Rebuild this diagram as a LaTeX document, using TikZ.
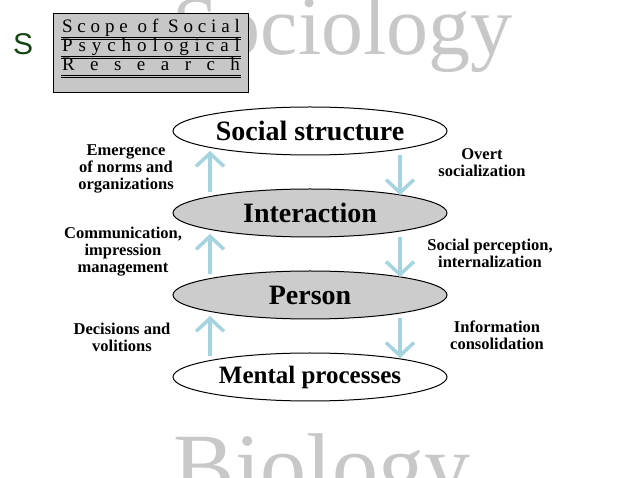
\documentclass[tikz,border=0pt]{standalone}
\usepackage{fontspec}
\setmainfont{Liberation Serif}
\newfontfamily\sansf{Liberation Sans}
\usetikzlibrary{shapes.geometric,arrows.meta}
\definecolor{arr}{RGB}{165,212,224}
\definecolor{wm}{RGB}{200,200,200}
\definecolor{ttl}{RGB}{20,70,20}
\tikzset{
 ell/.style={ellipse,draw,line width=1pt,minimum width=274pt,minimum height=48pt,inner sep=0pt,font=\fontsize{28}{30}\selectfont\bfseries},
 lab/.style={align=center,font=\fontsize{16.5}{17}\selectfont\bfseries,inner sep=0pt},
 flow/.style={draw=arr,line width=4pt,-{Straight Barb[length=13pt,width=28pt,line width=3.5pt]}},
 boxrow/.style={font=\fontsize{19}{19}\selectfont,inner sep=0pt,anchor=base}
}
\newcommand{\spreadrow}[1]{\makebox[178pt][s]{#1}}
\begin{document}
\begin{tikzpicture}[x=1pt,y=-1pt]
\useasboundingbox (0,0) rectangle (638,478);
\clip (0,0) rectangle (638,478);
\fill[white] (0,0) rectangle (638,478);
\node[anchor=base west,text=wm,font=\fontsize{84}{84}\selectfont,inner sep=0pt] (soc) at (172,55) {Sociology};
\node[anchor=base,text=wm,font=\fontsize{92}{92}\selectfont,inner sep=0pt] (bio) at (322,497) {Biology};
\node[anchor=base west,text=ttl,font=\sansf\fontsize{30}{30}\selectfont,inner sep=0pt] (s) at (13,55) {S};
\draw[fill=black!22,line width=0.8pt] (53,13) rectangle (248,92);
\node[boxrow] (r1) at (151,33) {\spreadrow{S\hfill c\hfill o\hfill p\hfill e\hfill\hfill o\hfill f\hfill\hfill S\hfill o\hfill c\hfill i\hfill a\hfill l}};
\node[boxrow] (r2) at (151,52) {\spreadrow{P\hfill s\hfill y\hfill c\hfill h\hfill o\hfill l\hfill o\hfill g\hfill i\hfill c\hfill a\hfill l}};
\node[boxrow] (r3) at (151,71) {\spreadrow{R\hfill e\hfill s\hfill e\hfill a\hfill r\hfill c\hfill h}};
\foreach \y in {37,56,75}{\draw[line width=0.9pt] (61,\y) -- (241,\y); \draw[line width=0.5pt] (61,\y+2.5) -- (241,\y+2.5);}
\node[ell] (ss) at (310,131) {Social structure};
\node[ell,fill=black!20] (in) at (310,213) {Interaction};
\node[ell,fill=black!20] (pe) at (310,295) {Person};
\node[ell,font=\fontsize{25}{27}\selectfont\bfseries] (mp) at (310,377) {Mental processes};
\draw[flow] (210,192) -- (210,151);
\draw[flow] (210,274) -- (210,234);
\draw[flow] (210,356) -- (210,316);
\draw[flow] (400,155) -- (400,195);
\draw[flow] (400,237) -- (400,277);
\draw[flow] (400,318) -- (400,358);
\node[lab] (l1) at (126,169) {Emergence\\of norms and\\organizations};
\node[lab] (l2) at (123,252) {Communication,\\impression\\management};
\node[lab] (l3) at (122,337) {Decisions and\\volitions};
\node[lab] (r1l) at (482,163) {Overt\\socialization};
\node[lab] (r2l) at (490,253) {Social perception,\\internalization};
\node[lab] (r3l) at (497,335) {Information\\consolidation};
\end{tikzpicture}
\end{document}
